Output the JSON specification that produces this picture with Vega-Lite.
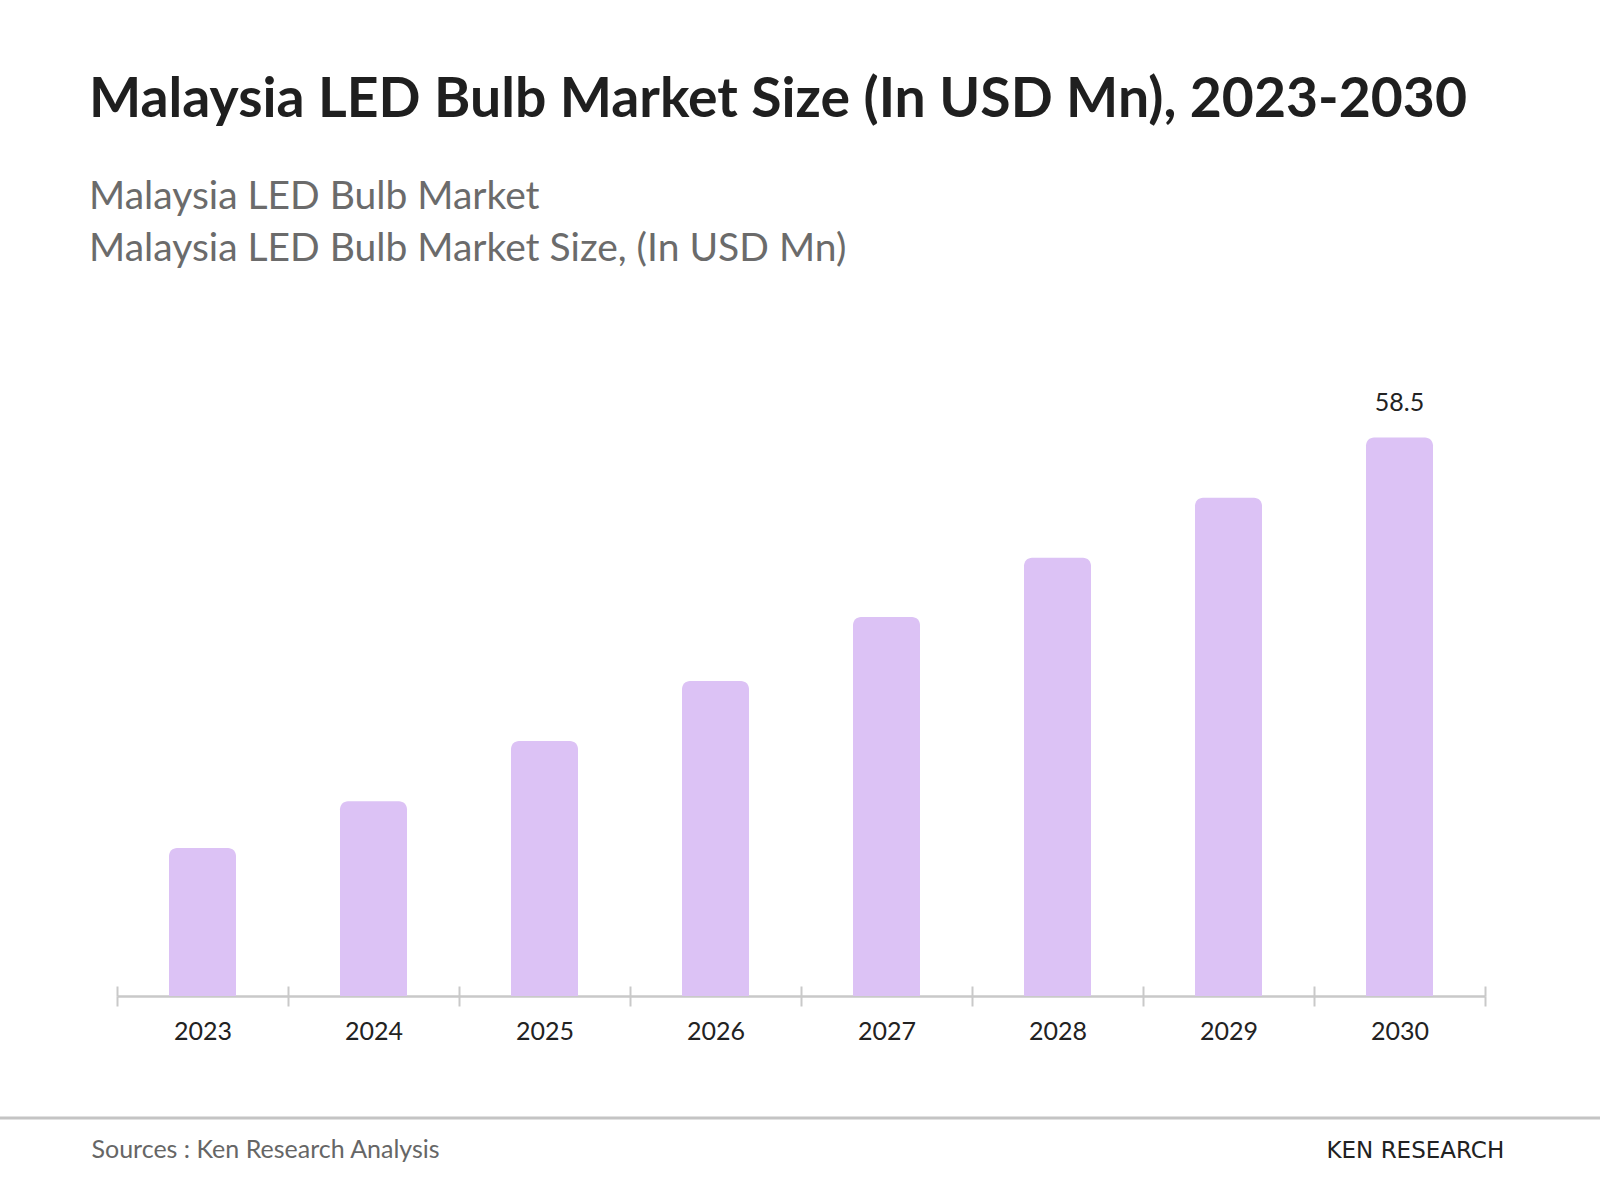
{
  "$schema": "https://vega.github.io/schema/vega-lite/v6.json",
  "width": 1600,
  "height": 1200,
  "padding": 0,
  "autosize": {"type": "none"},
  "background": "#ffffff",
  "config": {
    "font": "Lato",
    "view": {"stroke": null}
  },
  "title": {
    "text": "Malaysia LED Bulb Market Size (In USD Mn), 2023-2030",
    "subtitle": ["Malaysia LED Bulb Market", "Malaysia LED Bulb Market Size, (In USD Mn)"],
    "anchor": "start",
    "frame": "group",
    "orient": "top",
    "offset": -269,
    "dx": 89,
    "font": "Lato",
    "fontSize": 55.3,
    "fontWeight": "bold",
    "color": "#1f1f1f",
    "subtitleFont": "Lato",
    "subtitleFontSize": 39,
    "subtitleFontWeight": "normal",
    "subtitleColor": "#6b6b6b",
    "subtitleLineHeight": 52,
    "subtitlePadding": 50
  },
  "data": {
    "values": [
      {"year": 2023, "value": 15.5},
      {"year": 2024, "value": 20.4},
      {"year": 2025, "value": 26.7},
      {"year": 2026, "value": 33.0},
      {"year": 2027, "value": 39.7},
      {"year": 2028, "value": 45.9},
      {"year": 2029, "value": 52.2},
      {"year": 2030, "value": 58.5}
    ]
  },
  "layer": [
    {
      "mark": {
        "type": "bar",
        "orient": "vertical",
        "width": 67,
        "cornerRadiusTopLeft": 8,
        "cornerRadiusTopRight": 8,
        "color": "#dcc2f5"
      },
      "encoding": {
        "x": {
          "field": "year",
          "type": "quantitative",
          "scale": {"domain": [2022.5, 2030.5], "range": [117, 1485], "padding": 0, "nice": false, "zero": false},
          "axis": {
            "orient": "bottom",
            "offset": -204,
            "values": [2022.5, 2023.5, 2024.5, 2025.5, 2026.5, 2027.5, 2028.5, 2029.5, 2030.5],
            "grid": false,
            "tickSize": 10,
            "tickWidth": 2,
            "tickColor": "#c9c9c9",
            "domainColor": "#c9c9c9",
            "domainWidth": 2.5,
            "labelExpr": "datum.value > 2030 ? '' : format(datum.value + 0.5, 'd')",
            "labelOffset": 85.5,
            "labelOverlap": false,
            "labelFlush": false,
            "labelFont": "Lato",
            "labelFontSize": 25,
            "labelColor": "#222222",
            "labelBaseline": "alphabetic",
            "labelPadding": 33,
            "title": "Sources : Ken Research Analysis",
            "titleX": 91,
            "titleY": 161,
            "titleAlign": "left",
            "titleAnchor": "start",
            "titleBaseline": "alphabetic",
            "titleFont": "Lato",
            "titleFontSize": 25,
            "titleFontWeight": "normal",
            "titleColor": "#666666"
          }
        },
        "y": {
          "field": "value",
          "type": "quantitative",
          "scale": {"domain": [-21.37, 104.33], "nice": false, "zero": false},
          "axis": null
        },
        "y2": {"datum": 0}
      }
    },
    {
      "transform": [{"filter": "datum.year == 2030"}],
      "mark": {
        "type": "text",
        "baseline": "alphabetic",
        "dy": -27,
        "font": "Lato",
        "fontSize": 25,
        "color": "#222222"
      },
      "encoding": {
        "x": {
          "field": "year",
          "type": "quantitative",
          "axis": {
            "orient": "bottom",
            "offset": -204,
            "values": [2022.5, 2023.5, 2024.5, 2025.5, 2026.5, 2027.5, 2028.5, 2029.5, 2030.5],
            "grid": false,
            "domain": false,
            "labels": false,
            "tickSize": -10,
            "tickWidth": 2,
            "tickColor": "#c9c9c9",
            "title": "KEN RESEARCH",
            "titleX": 1326,
            "titleY": 161,
            "titleAlign": "left",
            "titleAnchor": "start",
            "titleBaseline": "alphabetic",
            "titleFont": "DejaVu Sans",
            "titleFontSize": 23,
            "titleFontWeight": "normal",
            "titleColor": "#222222"
          }
        },
        "y": {"field": "value", "type": "quantitative", "axis": null},
        "text": {"field": "value", "type": "quantitative", "format": ".1f"}
      }
    },
    {
      "data": {"values": [{"separator": "footer"}]},
      "mark": {"type": "rule", "color": "#c4c4c4", "strokeWidth": 3},
      "encoding": {
        "y": {"datum": -12.78, "type": "quantitative"}
      }
    }
  ],
  "resolve": {"axis": {"x": "independent"}}
}
